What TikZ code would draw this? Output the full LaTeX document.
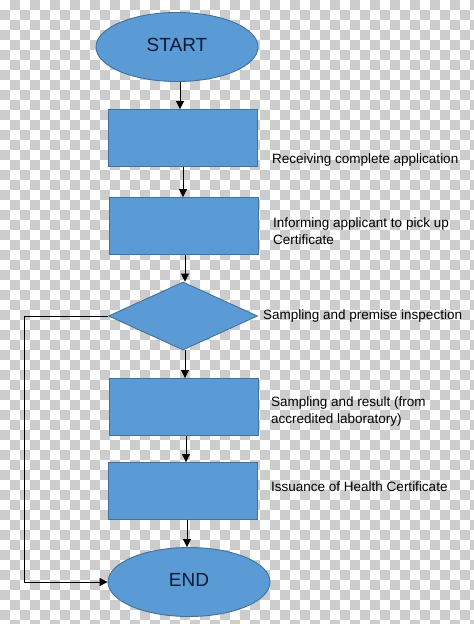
\documentclass[tikz,border=0pt]{standalone}
\usepackage{fontspec}
\setmainfont{Liberation Sans}
\usetikzlibrary{shapes.geometric,arrows.meta}
\definecolor{boxfill}{HTML}{5B9BD5}
\definecolor{boxline}{HTML}{41719C}
\definecolor{chk}{HTML}{CDCDCD}
\definecolor{navy}{HTML}{0E1A33}
\tikzset{
  shp/.style={fill=boxfill,draw=boxline,line width=0.9pt,inner sep=0pt},
  term/.style={shp,ellipse,minimum width=162pt,minimum height=69pt,font=\fontsize{19}{20}\selectfont,text=navy},
  procbox/.style={shp,rectangle,minimum width=149pt,minimum height=57pt},
  decide/.style={shp,diamond,minimum width=149pt,minimum height=68pt},
  lbl/.style={anchor=west,inner sep=0pt,align=left,font=\fontsize{13.5}{17}\selectfont,text=black},
  arr/.style={draw=black,line width=0.9pt,-{Triangle[length=8pt,width=8pt]}}
}
\begin{document}
\begin{tikzpicture}[x=1pt,y=-1pt]
\useasboundingbox (0,0) rectangle (474,624);
\fill[white] (0,0) rectangle (474,624);
\foreach \i in {0,2,...,46}{\foreach \j in {0,2,...,62}{\fill[chk] (\i*10+10,\j*10) rectangle ++(10,10);}}
\foreach \i in {1,3,...,47}{\foreach \j in {1,3,...,61}{\fill[chk] (\i*10+10,\j*10) rectangle ++(10,10);}}
\foreach \j in {1,3,...,61}{\fill[chk] (0,\j*10) rectangle ++(10,10);}
\node[term] (start) at (177,47) {\raisebox{4pt}{START}};
\node[procbox] (r1) at (182.5,138) {};
\node[procbox] (r2) at (184,226) {};
\node[decide] (dia) at (183,316) {};
\node[procbox] (r3) at (184,407) {};
\node[procbox] (r4) at (182.5,491) {};
\node[term] (end) at (189,582) {\raisebox{5pt}{END}};
\node[lbl] (t1) at (272,160) {Receiving complete application};
\node[lbl] (t2) at (273,231.5) {Informing applicant to pick up\\Certificate};
\node[lbl] (t3) at (263,316.5) {Sampling and premise inspection};
\node[lbl] (t4) at (271,411.5) {Sampling and result (from\\accredited laboratory)};
\node[lbl] (t5) at (271,487) {Issuance of Health Certificate};
\coordinate (fb) at (24,316);
\draw[arr] (start.south -| 180,0) -- (r1.north -| 180,0);
\draw[arr] (r1.south -| 183,0) -- (r2.north -| 183,0);
\draw[arr] (r2.south -| 185,0) -- (dia.north -| 185,0);
\draw[arr] (dia.south -| 185,0) -- (r3.north -| 185,0);
\draw[arr] (r3.south -| 186,0) -- (r4.north -| 186,0);
\draw[arr] (r4.south -| 187,0) -- (end.north -| 187,0);
\draw[arr] (dia.west) -- (fb) |- (end.west);
\end{tikzpicture}
\end{document}
